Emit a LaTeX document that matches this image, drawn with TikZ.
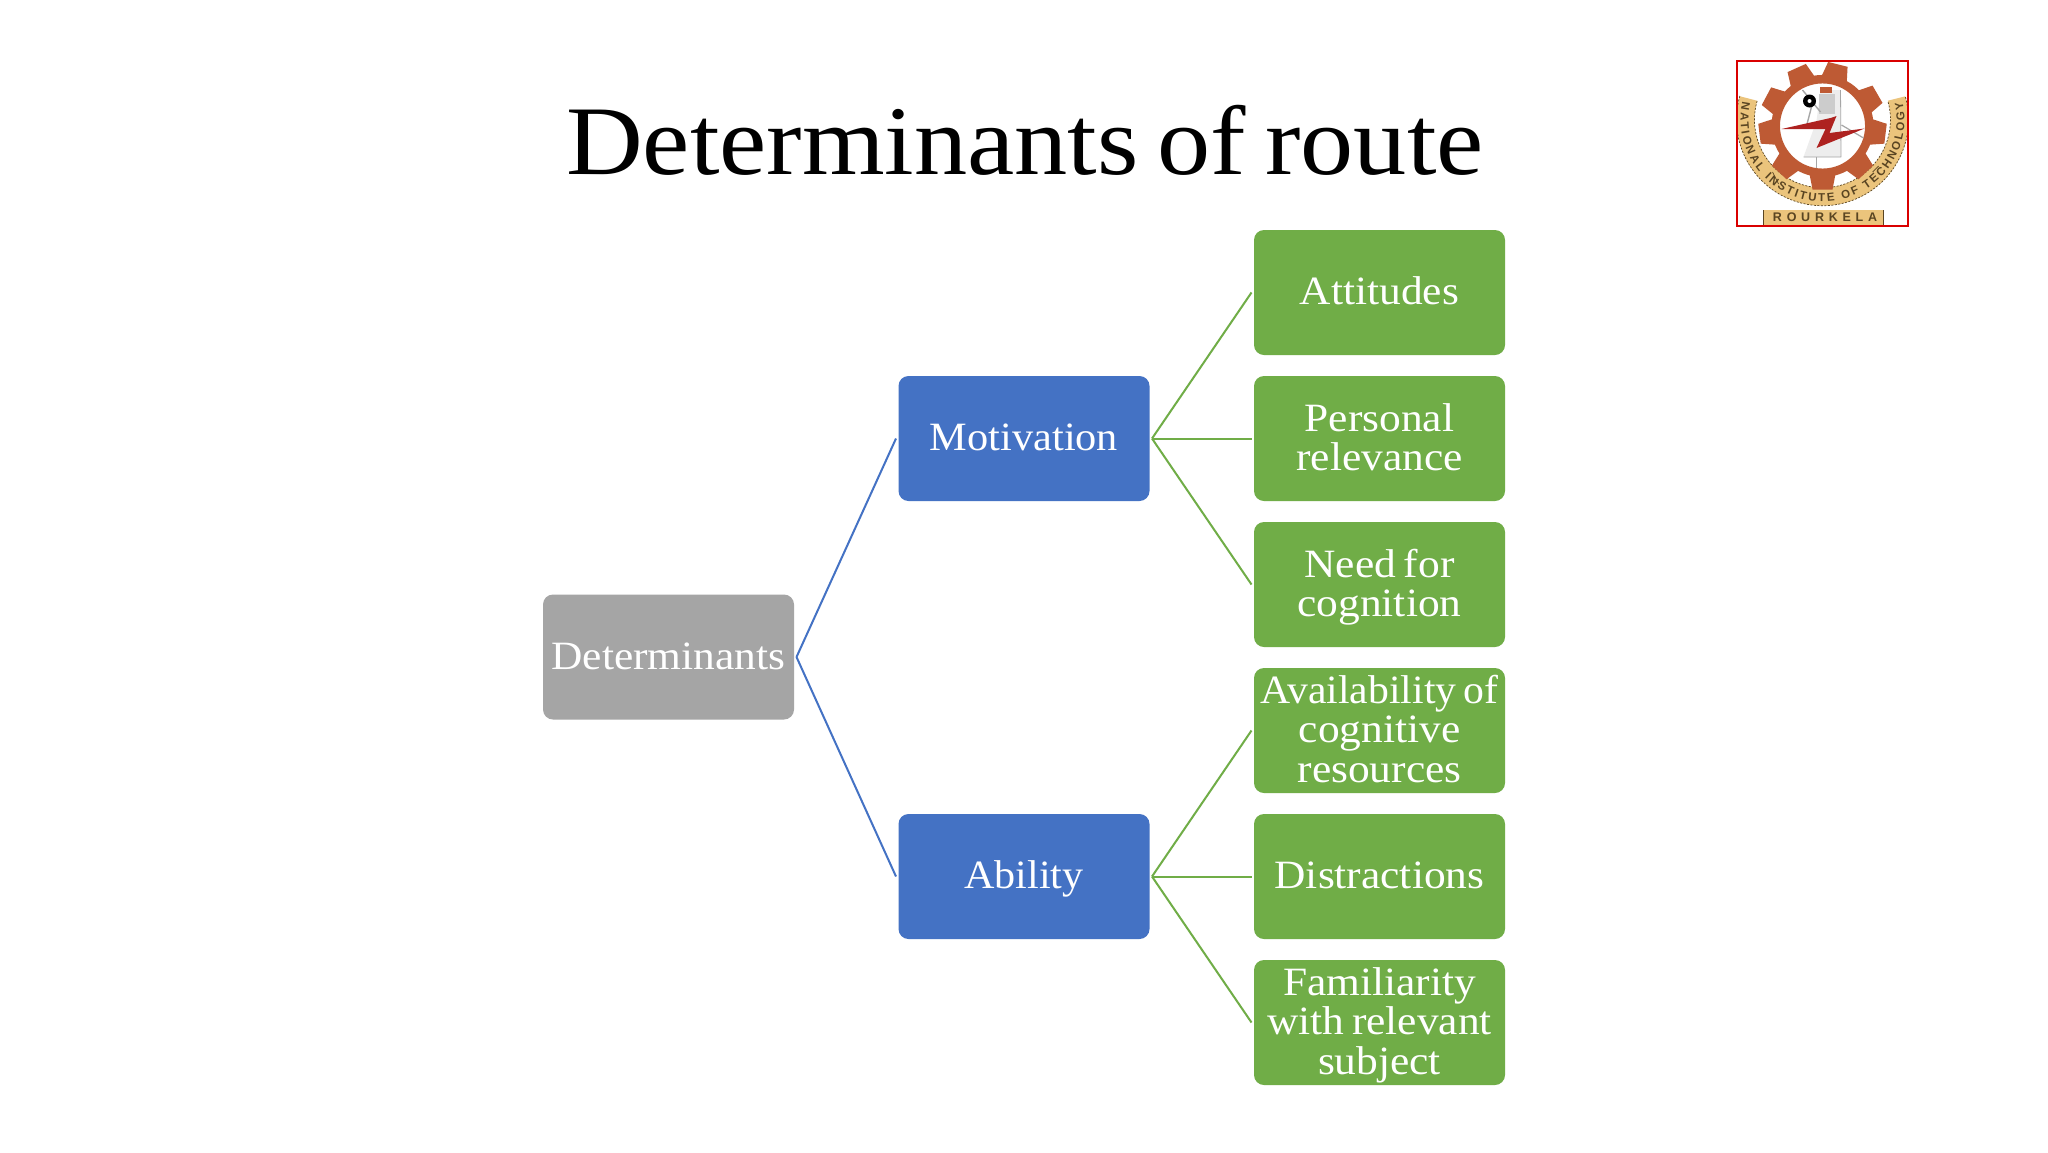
\documentclass[tikz,border=0pt]{standalone}
\usepackage{graphicx}
\usepackage{fontspec}
\usetikzlibrary{decorations.text}
\setmainfont[FakeStretch=1.08,WordSpace=0.72]{Liberation Serif}
\newfontfamily\logofont{Liberation Sans Bold}
\newfontfamily\logowide[LetterSpace=38]{Liberation Sans Bold}
\definecolor{gbox}{HTML}{70AD47}
\definecolor{bbox}{HTML}{4472C4}
\definecolor{graybox}{HTML}{A5A5A5}
\definecolor{gearc}{HTML}{BE5A34}
\definecolor{ribbon}{HTML}{EBC47C}
\definecolor{logoink}{HTML}{5A4522}
\definecolor{boltc}{HTML}{AE2220}
\newcommand\ls{\rule[-9pt]{0pt}{42.6pt}}
\newcommand\cardfont{\fontsize{40.2}{39.3}\selectfont\lineskiplimit=-100pt\relax}
\tikzset{
 x=1pt,y=-1pt,
 cardbase/.style={rounded corners=10pt,minimum width=251pt,minimum height=125pt,inner sep=0pt,outer sep=2.5pt,text=white,align=center,font=\cardfont},
 rootcard/.style={cardbase,fill=graybox},
 midcard/.style={cardbase,fill=bbox},
 leafcard/.style={cardbase,fill=gbox},
 bluelink/.style={draw=bbox,line width=2pt},
 greenlink/.style={draw=gbox,line width=2pt},
 titletext/.style={font=\fontsize{98.4}{100}\selectfont,text=black,inner sep=0pt,anchor=base}
}
\begin{document}
\begin{tikzpicture}
\useasboundingbox (0,0) rectangle (2048,1152);
\fill[white] (0,0) rectangle (2048,1152);
\node[titletext] (title) at (1025,174.5) {Determinants of route};
\node[rootcard] (det) at (668.5,657) {\ls Determinants};
\node[midcard] (mot) at (1024,438.5) {\ls\scalebox{0.975}[1]{Motivation}};
\node[midcard] (abi) at (1024,876.5) {\ls\scalebox{0.97}[1]{Ability}};
\node[leafcard] (l1) at (1379.5,292.5) {\ls Attitudes};
\node[leafcard] (l2) at (1379.5,438.5) {\ls Personal\\\ls relevance};
\node[leafcard] (l3) at (1379.5,584.5) {\ls Need for\\\ls cognition};
\node[leafcard] (l4) at (1379.5,730.5) {\ls\scalebox{0.96}[1]{Availability of}\\\ls cognitive\\\ls resources};
\node[leafcard] (l5) at (1379.5,876.5) {\ls Distractions};
\node[leafcard] (l6) at (1379.5,1022.5) {\ls Familiarity\\\ls with relevant\\\ls subject};
\draw[bluelink] (det.east) -- (mot.west);
\draw[bluelink] (det.east) -- (abi.west);
\foreach \t in {l1,l2,l3}{\draw[greenlink] (mot.east) -- (\t.west);}
\foreach \t in {l4,l5,l6}{\draw[greenlink] (abi.east) -- (\t.west);}
% logo
\begin{scope}[shift={(1822.5,126)}]
 % ribbon
 \draw[ribbon,line width=18pt] (-74,-27.5) arc[start angle=196,end angle=-16,radius=77];
 \draw[logoink,line width=0.7pt,dash pattern=on 2pt off 1.5pt] (-82.7,-30) arc[start angle=196,end angle=-16,radius=86];
 \draw[logoink,line width=0.7pt,dash pattern=on 2pt off 1.5pt] (-65.4,-25) arc[start angle=196,end angle=-16,radius=68];
 \draw[logoink,line width=0.7pt] (-50,46) -- (-44,58) (50,46) -- (56,40);
 \path[postaction={decorate,decoration={text along path,text align={fit to path,left indent=5pt,right indent=5pt},text={|\fontsize{11.5}{12}\logofont\color{logoink}|NATIONAL INSTITUTE OF TECHNOLOGY}}}]
   (-78.8,-28.9) arc[start angle=196,end angle=-16,radius=82];
 % gear
 \foreach \a in {90,47,7,-30,-76,-114,-152,173,133}{
   \fill[gearc,rotate=-\a] (48,-13) -- (63.5,-10) -- (63.5,10) -- (48,13) -- cycle;
 }
 \draw[gearc,line width=8.5pt] (0,0) circle[radius=46.8];
 % emblem
 \fill[gray!14] (-6,-5) -- (-2,-36) -- (17.5,-36) -- (18.5,31) -- (-19,31) -- cycle;
 \fill[gray!40] (-4,-32) rectangle (12,-12);
 \fill[gearc] (-3,-39) rectangle (9,-33);
 \draw[gray!70,line width=1.4pt] (-20,-36) -- (-2,-14) (-10,-23) -- (-16,0);
 \draw[gray!70,line width=0.8pt] (18,-36) -- (18.5,31) (-19,31) -- (18.5,31) (-6,31) -- (-6,42);
 \fill[black] (-13,-25) circle[radius=6.5];
 \fill[white] (-13,-25) circle[radius=2];
 \draw[gray!70,line width=1.2pt] (19,-1) -- (41,12);
 \fill[boltc] (-41,3) -- (8,-8) -- (14,-10) -- (7,7) -- (42,2.5) -- (-6,22) -- (3,3) -- cycle;
 % bottom label
 \fill[ribbon] (-59,84) rectangle (61,100);
 \draw[logoink,line width=0.7pt] (-59,84) -- (-59,100) (61,84) -- (61,100);
\end{scope}
\node[font=\fontsize{12.5}{13}\logowide,text=logoink,inner sep=0pt] (rk) at (1825,217.5) {ROURKELA};
\draw[red!85!black,line width=1.6pt] (1737,61) rectangle (1908,226);
\end{tikzpicture}
\end{document}
